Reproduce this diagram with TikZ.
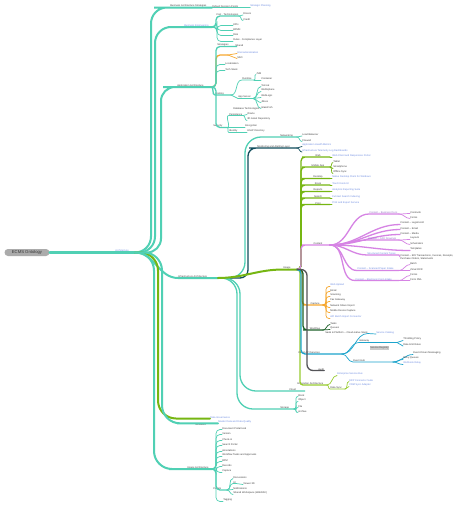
\documentclass[tikz,border=0pt]{standalone}
\usepackage{fontspec}
\setmainfont{Liberation Sans}

\definecolor{brTeal}{RGB}{80,208,180}
\definecolor{brDteal}{RGB}{16,76,92}
\definecolor{brGreen}{RGB}{118,182,18}
\definecolor{brLgreen}{RGB}{152,204,48}
\definecolor{brDgreen}{RGB}{28,96,40}
\definecolor{brOrange}{RGB}{246,168,48}
\definecolor{brPurple}{RGB}{214,132,228}
\definecolor{brCyan}{RGB}{28,164,204}
\definecolor{brDgray}{RGB}{84,84,88}
\definecolor{linkBlue}{RGB}{112,142,226}
\definecolor{ptxt}{RGB}{150,112,196}

\tikzset{
  mm/.style={font=\fontsize{2.5}{3}\selectfont},
  root/.style={fill=black!33, text=black!80, rounded corners=3.5pt, font=\fontsize{4.2}{5}\selectfont, minimum width=45pt, minimum height=7pt, inner sep=1pt},
  lbl/.style={mm, inner sep=0.3pt, outer sep=0pt, anchor=south west, text=black!75},
  lf/.style={lbl},
  lk/.style={lbl, text=linkBlue},
  gl/.style={lbl, minimum width=24pt},
  l0/.style={line width=2.6pt, brTeal, line cap=round},
  l1/.style={line width=2pt, brTeal, line cap=round},
  l2/.style={line width=1.3pt, brTeal, line cap=round},
  l3/.style={line width=0.7pt, brTeal, line cap=round},
  fan/.style={out=0, in=180},
  elb/.style={to path={-- ++(#1,0) |- (\tikztotarget) \tikztonodes}},
}

\begin{document}
\begin{tikzpicture}[x=1pt,y=-1pt]
  \path[fill=white] (0,0) rectangle (474,507);
  \useasboundingbox (0,0) rectangle (474,507);

  \node[root] (root) at (27,252.5) {ECMS Ontology};
  \coordinate (jA) at (135,252.5);
  \node[lk,anchor=south east] (nArch) at (129,251.5) {Architecture};
  \draw[l0] (root.east) -- (jA);

  \node[lbl] (nBAS) at (170,7.5) {Business Architecture Strategies};
  \node[lbl] (nDDP) at (212,7.5) {Default Decision Points};
  \node[lk] (lSP) at (250,7.5) {Strategic Planning};
  \draw[l1,rounded corners=16pt] (jA) to[elb=16] (nBAS.south west) -- (nDDP.south west);
  \draw[l2] (nDDP.south west) -- (lSP.south west);

  \node[lk] (nBE) at (184,27) {Business Engineering};
  \coordinate (jBE) at (212,27);
  \draw[l1,rounded corners=16pt] (jA) to[elb=20] (nBE.south west) -- (jBE);
  \node[lbl] (nCT) at (216,16) {Cost · Technologies};
  \coordinate (jCT) at (239,16);
  \draw[l2,rounded corners=4pt] (jBE) to[elb=4] (jCT);
  \foreach \nm/\y/\txt in {lDrv/15/Drivers, lCrd/20.5/Credit}{
    \node[lf] (\nm) at (243,\y) {\txt};
    \draw[l3] (jCT) to[fan] (\nm.south west);}
  \foreach \nm/\y/\txt in {lKpi/25.5/KPIs, lBpm/30.5/BPMN, lRsk/35.5/Risk, lRul/41.5/Rules · Compliance Layer}{
    \node[lf] (\nm) at (233,\y) {\txt};
    \draw[l3,rounded corners=4pt] (jBE) to[elb=5] (\nm.south west);}

  \node[lbl] (nAA) at (177,87) {Application Architecture};
  \coordinate (jAA) at (211,87);
  \draw[l1,rounded corners=14pt] (jA) to[elb=26] (nAA.south west) -- (jAA);
  \coordinate (jOr) at (228,55);
  \draw[l2,brOrange,rounded corners=4pt] (jAA) to[elb=5] (jOr);
  \node[lk] (lI18) at (237,53.5) {Internationalization};
  \node[lf] (lSSO) at (237,58.5) {SSO};
  \draw[l3,brOrange] (jOr) to[fan] (lI18.south west);
  \draw[l3,brOrange] (jOr) to[fan] (lSSO.south west);
  \node[lbl] (nStr) at (217,46.5) {Strategies};
  \coordinate (jStr) at (233,46.5);
  \node[lf] (lShr) at (235,46.5) {Shared};
  \draw[l2,rounded corners=4pt] (jAA) to[elb=5] (jStr) -- (lShr.south west);
  \foreach \nm/\y/\txt in {lLoc/64.5/Localization, lTec/70.5/Tech Stack}{
    \node[lf] (\nm) at (225,\y) {\txt};
    \draw[l3,rounded corners=4pt] (jAA) to[elb=5] (\nm.south west);}
  \node[lbl] (nHost) at (215,95) {Hosting};
  \coordinate (jHost) at (231,95);
  \draw[l2] (jAA) to[fan] (nHost.south west) -- (jHost);
  \node[lbl] (nRun) at (242,80) {Runtime};
  \coordinate (jRun) at (254,80);
  \draw[l3] (jHost) to[fan] (nRun.south west) -- (jRun);
  \node[lf] (lJvm) at (256,74.5) {JVM};
  \node[lf] (lCtn) at (261,80) {Container};
  \draw[l3] (jRun) to[fan] (lJvm.south west);
  \draw[l3] (jRun) -- (lCtn.south west);
  \node[lbl] (nSrv) at (238,98.5) {App Server};
  \coordinate (jSrv) at (253,98.5);
  \draw[l3] (jHost) to[fan] (nSrv.south west) -- (jSrv);
  \foreach \nm/\y/\txt in {lTom/86.5/Tomcat, lWsp/91.5/WebSphere, lWlg/97.5/WebLogic, lJbs/102.5/JBoss, lGfs/108.5/GlassFish}{
    \node[lf] (\nm) at (261,\y) {\txt};
    \draw[l3] (jSrv) to[fan] (\nm.south west);}
  \node[lbl] (nSec) at (213,127.5) {Security};
  \coordinate (jSec) at (227,127.5);
  \draw[l2,rounded corners=4pt] (jAA) to[elb=5] (jSec);
  \node[lbl] (nDBT) at (233,110.5) {Database Technologies};
  \node[lbl] (nPers) at (229,115.5) {Persistence};
  \coordinate (jPers) at (243,115.5);
  \draw[l3] (jSec) to[fan] (nPers.south west) -- (jPers);
  \foreach \nm/\y/\txt in {lOra/114.5/Oracle, lAst/120.5/3D Asset Repository}{
    \node[lf] (\nm) at (247,\y) {\txt};
    \draw[l3] (jPers) to[fan] (\nm.south west);}
  \node[lf] (lEnc) at (245,127.5) {Encryption};
  \draw[l3] (jSec) -- (lEnc.south west);
  \node[lbl] (nIdm) at (229,132.5) {Identity};
  \coordinate (jIdm) at (241,132.5);
  \draw[l3] (jSec) to[fan] (nIdm.south west) -- (jIdm);
  \node[lf] (lLdap) at (247,132.5) {LDAP Directory};
  \draw[l3] (jIdm) -- (lLdap.south west);

  \node[lbl] (nIA) at (178,278) {Infrastructure Architecture};
  \coordinate (jIA) at (218,278);
  \draw[l1] (jA) to[fan] (nIA.south west) -- (jIA);

  \node[lbl] (nNet) at (280,137) {Networking};
  \coordinate (jNet) at (297,137);
  \draw[l2,rounded corners=16pt] (jIA) to[elb=27] (nNet.south west) -- (jNet);
  \foreach \nm/\y/\txt in {lLb/136/Load Balancer, lFw/141.5/Firewall}{
    \node[lf] (\nm) at (302,\y) {\txt};
    \draw[l3] (jNet) to[fan] (\nm.south west);}
  \node[lbl] (nMon) at (257,148) {Monitoring and Alerting Layer};
  \coordinate (jMon) at (297,148);
  \draw[l2,brDteal,rounded corners=8pt] (jIA) to[elb=30] (nMon.south west) -- (jMon);
  \foreach \nm/\y/\txt in {lApm/146.5/Application Health Metrics, lTel/152/Infrastructure Telemetry Log Dashboards}{
    \node[lk] (\nm) at (302,\y) {\txt};
    \draw[l3,brDteal] (jMon) to[fan] (\nm.south west);}

  \node[lbl] (nCld) at (289,391) {Cloud};
  \draw[l2,rounded corners=16pt] (jIA) to[elb=22] (nCld.south west) -- (nCld.south east);
  \node[lbl] (nSto) at (280,409) {Storage};
  \coordinate (jSto) at (294,409);
  \draw[l2,rounded corners=16pt] (jIA) to[elb=19] (nSto.south west) -- (jSto);
  \foreach \nm/\y/\txt in {lBlk/396.5/Block, lObj/401.5/Object, lFil/407.5/File, lArc/412.5/Archive}{
    \node[lf] (\nm) at (298,\y) {\txt};
    \draw[l3,rounded corners=2pt] (jSto) to[elb=2] (\nm.south west);}

  \node[lbl] (nUse) at (283,269.5) {Usage};
  \coordinate (jU) at (297,269.5);
  \draw[l1,brGreen] (jIA) to[fan] (nUse.south west) -- (jU);

  \foreach \nm/\y/\a/\b in {gWeb/157/Web/Web Client and Responsive Portal, gDsk/178.5/Desktop/Native Desktop Client for Windows, gKio/185/Kiosk/Touch Kiosk UI, gRep/191.5/Reports/Analytics Reporting Suite, gSrc/198/Search/Full-text Search Indexing, gPrt/204.5/Print/Print and Export Service}{
    \node[gl] (\nm) at (306,\y) {\a};
    \node[lk] (\nm-l) at (332,\y) {\b};
    \draw[l2,brGreen,rounded corners=4pt] (jU) to[elb=4] (\nm.south west) -- (\nm.south east);
    \draw[l3,brGreen] (\nm.south east) -- (\nm-l.south west);}
  \node[gl] (gMob) at (306,167) {Mobile App};
  \draw[l2,brGreen,rounded corners=4pt] (jU) to[elb=4] (gMob.south west) -- (gMob.south east);
  \foreach \nm/\y/\txt in {lTab/162.5/Tablet, lPhn/168.5/Smartphone, lOff/173.5/Offline Sync}{
    \node[lf] (\nm) at (333,\y) {\txt};
    \draw[l3,brGreen] (gMob.south east) to[fan] (\nm.south west);}

  \node[gl] (nCont) at (306,245) {Content};
  \draw[l2,brPurple,rounded corners=4pt] (jU) to[elb=4] (nCont.south west) -- (nCont.south east);
  \node[lbl,text=ptxt] (p1) at (369,214) {Content – Business Docs};
  \coordinate (jP1) at (399,214);
  \draw[l2,brPurple] (nCont.south east) to[fan] (p1.south west) -- (jP1);
  \foreach \nm/\y/\txt in {lCtr/213.5/Contracts, lFrm/218.5/Forms}{
    \node[lf] (\nm) at (410,\y) {\txt};
    \draw[l3,brPurple] (jP1) to[fan] (\nm.south west);}
  \foreach \nm/\y/\txt in {p2/224.5/Content – Legal Hold, p3/229.5/Content – Email, p4/234.5/Content – Media}{
    \node[lf] (\nm) at (400,\y) {\txt};
    \draw[l2,brPurple] (nCont.south east) to[fan] (\nm.south west);}
  \node[lbl,text=ptxt] (p5) at (368,240) {Content – CAD Drawings};
  \coordinate (jP5) at (399,240);
  \draw[l2,brPurple] (nCont.south east) to[fan] (p5.south west) -- (jP5);
  \foreach \nm/\y/\txt in {lLay/239.5/Layouts, lSch/244.5/Schematics}{
    \node[lf] (\nm) at (410,\y) {\txt};
    \draw[l3,brPurple] (jP5) to[fan] (\nm.south west);}
  \node[lf] (p6) at (410,250.5) {Templates};
  \draw[l2,brPurple] (nCont.south east) to[fan] (p6.south west);
  \node[lk] (p7) at (367,255) {Structured Content Types};
  \coordinate (jP7) at (399,255);
  \draw[l2,brPurple] (nCont.south east) to[fan] (p7.south west) -- (jP7);
  \node[lbl,align=left,anchor=west] (p7l) at (400,257) {Content – EDI Transactions, Invoices, Receipts,\\Purchase Orders, Statements};
  \draw[l3,brPurple] (jP7) to[fan] (p7l.west);
  \node[lk] (p8) at (357,270.5) {Content – Scanned Paper Intake};
  \coordinate (jP8) at (399,270.5);
  \draw[l2,brPurple] (nCont.south east) to[fan] (p8.south west) -- (jP8);
  \foreach \nm/\y/\txt in {lBat/264.5/Batch, lZoc/270.5/Zonal OCR}{
    \node[lf] (\nm) at (410,\y) {\txt};
    \draw[l3,brPurple] (jP8) to[fan] (\nm.south west);}
  \node[lk] (p9) at (355,280.5) {Content – Electronic Form Intake};
  \coordinate (jP9) at (399,280.5);
  \draw[l2,brPurple] (nCont.south east) to[fan] (p9.south west) -- (jP9);
  \foreach \nm/\y/\txt in {lFms/275.5/Forms, lFxm/280.5/Form XML}{
    \node[lf] (\nm) at (410,\y) {\txt};
    \draw[l3,brPurple] (jP9) to[fan] (\nm.south west);}

  \node[lbl,minimum width=16pt] (nCap) at (307,305) {Capture};
  \draw[l2,brOrange,rounded corners=4pt] (jU) to[elb=5] (nCap.south west) -- (nCap.south east);
  \foreach \nm/\y/\txt/\sty in {lUpl/286.5/Web Upload/lk, lEml/291.5/Email/lf, lScn/296.5/Scanning/lf, lFax/301.5/Fax Gateway/lf, lNsh/307.5/Network Share Import/lf, lMdc/312.5/Mobile Device Capture/lf, lBim/318.5/API Batch Import Connector/lk}{
    \node[\sty] (\nm) at (330,\y) {\txt};
    \draw[l3,brOrange,rounded corners=3pt] (nCap.south east) to[elb=3] (\nm.south west);}

  \node[lbl,minimum width=16pt] (nWf) at (307,330) {Workflow};
  \draw[l2,brDgreen,rounded corners=4pt] (jU) to[elb=6] (nWf.south west) -- (nWf.south east);
  \foreach \nm/\y/\txt in {lTsk/324.5/Tasks, lQue/329.5/Queues}{
    \node[lf] (\nm) at (330,\y) {\txt};
    \draw[l3,brDgreen] (nWf.south east) to[fan] (\nm.south west);}

  \node[lbl] (nInt) at (297,385) {Integration Architecture};
  \coordinate (jInt) at (327,385);
  \draw[l2,brLgreen,rounded corners=3pt] (jU) to[elb=3] (jInt);
  \node[lk] (lEsb) at (337,375.5) {Enterprise Service Bus};
  \draw[l3,brLgreen] (jInt) to[fan] (lEsb.south west);
  \node[lbl] (nSync) at (330,389) {Data Sync};
  \coordinate (jSync) at (345,389);
  \draw[l3,brLgreen] (jInt) to[fan] (nSync.south west) -- (jSync);
  \foreach \nm/\y/\txt in {lErp/381.5/ERP Connector Suite, lCrm/386.5/CRM Sync Adapter}{
    \node[lk] (\nm) at (349,\y) {\txt};
    \draw[l3,brLgreen] (jSync) to[fan] (\nm.south west);}

  \node[lbl] (nAPI) at (298,354) {Cloud API Services};
  \coordinate (jAPI) at (342,354);
  \draw[l2,brCyan,rounded corners=4pt] (jU) to[elb=4] (jAPI);
  \node[lbl] (c1) at (325,333.5) {SaaS \& Platform – Cloud-native Stack};
  \node[lk] (c1l) at (376,334) {Service Catalog};
  \draw[l3,brCyan] (jAPI) to[fan] (c1.south east) -- (c1l.south west);
  \node[lbl] (c2) at (359,342.5) {Gateway};
  \coordinate (jGw) at (397,342.5);
  \draw[l3,brCyan] (jAPI) to[fan] (c2.south west) -- (jGw);
  \foreach \nm/\y/\txt in {lThr/340.5/Throttling Policy, lRte/346/Rate-limit Rules}{
    \node[lf] (\nm) at (403,\y) {\txt};
    \draw[l3,brCyan] (jGw) to[fan] (\nm.south west);}
  \node[mm,fill=black!20,inner sep=0.6pt,text=black!70] (gReg) at (379.5,348) {Service Registry};
  \node[lbl] (c3) at (353,362) {Event Hub};
  \coordinate (jEv) at (393,362);
  \draw[l3,brCyan] (jAPI) to[fan] (c3.south west) -- (jEv);
  \foreach \nm/\x/\y/\txt/\sty in {lEdm/413/354.5/Event-Driven Messaging/lf, lRtq/403/359.5/Retry Queues/lf, lWhk/403/364.5/Webhook Relay/lk}{
    \node[\sty] (\nm) at (\x,\y) {\txt};
    \draw[l3,brCyan] (jEv) to[fan] (\nm.south west);}

  \node[lbl] (nAud) at (318,370.5) {Audit};
  \draw[l2,brDgray,rounded corners=6pt] (jU) to[elb=10] (nAud.south west) -- (nAud.south east);

  \node[lk] (nDGov) at (210,418.5) {Data Governance};
  \draw[l1,brGreen,rounded corners=18pt] (jA) to[elb=23] (nDGov.south west);
  \node[lbl,anchor=north west] (nMeta) at (195,423.3) {Metadata};
  \node[lk] (nMDM) at (218,423.3) {Master Data and Data Quality};
  \draw[l1,rounded corners=18pt] (jA) to[elb=27] (nMeta.north west) -- (nMDM.south west);

  \node[lbl] (nUA) at (187,469) {Usage Architecture};
  \coordinate (jUA) at (212,469);
  \draw[l1,rounded corners=18pt] (jA) to[elb=19] (nUA.south west) -- (jUA);
  \foreach \nm/\y/\txt in {lDph/429.5/Document Portal Hub, lVer/434.5/Version, lChk/440.5/Check-in, lSrp/445.5/Search Portal, lAnn/451.5/Annotations, lWta/456.5/Workflow Tasks and Approvals, lBpmn/461.5/BPM, lRec/466.5/Records, lCap/472.5/Capture}{
    \node[lf] (\nm) at (222,\y) {\txt};
    \draw[l3,rounded corners=4pt] (jUA) to[elb=4] (\nm.south west);}
  \node[lbl] (nColl) at (213,490) {Portals};
  \coordinate (jColl) at (227,490);
  \draw[l2,rounded corners=4pt] (jUA) to[elb=4] (jColl);
  \foreach \nm/\y/\txt in {lDis/478.5/Discussions, lNot/489.5/Notifications, lWsp2/494.5/Shared Workspace (WebDAV)}{
    \node[lf] (\nm) at (233,\y) {\txt};
    \draw[l3] (jColl) to[fan] (\nm.south west);}
  \node[lf] (nUI) at (233,483.5) {UI};
  \node[lf] (lV3d) at (243,484.5) {Viewer 3D};
  \draw[l3] (jColl) to[fan] (nUI.south west) -- (nUI.south east) -- (lV3d.south west);
  \node[lf] (lTag) at (223,501.5) {Tagging};
  \draw[l3,rounded corners=4pt] (jUA) to[elb=4] (lTag.south west);
\end{tikzpicture}
\end{document}
